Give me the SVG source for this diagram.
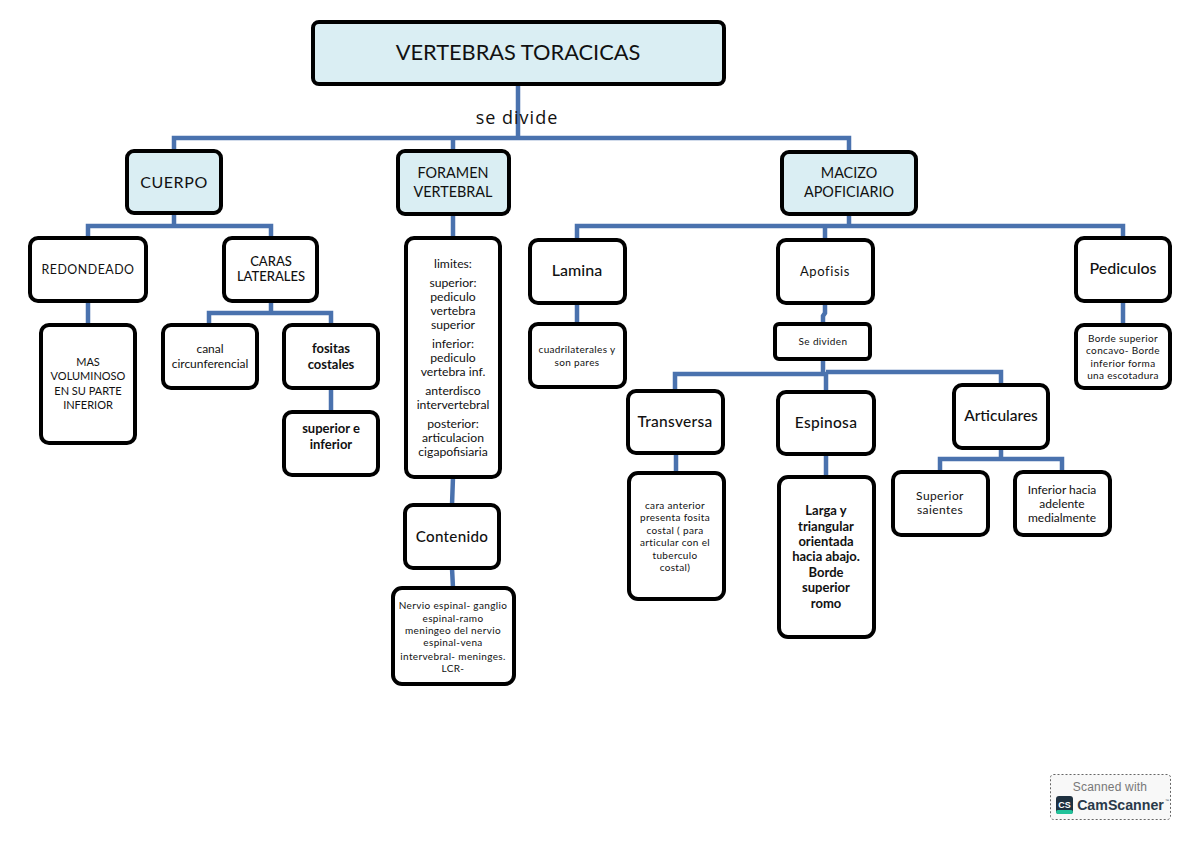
<svg xmlns="http://www.w3.org/2000/svg" width="1200" height="849" viewBox="0 0 1200 849">
<style>
.box{fill:#fff;stroke:#000;stroke-width:4}
.hd{fill:#daeef3}
.c{fill:none;stroke:#4a72ae;stroke-width:4.5}
text{font-family:"Lato","Carlito","Liberation Sans",sans-serif;fill:#111;text-anchor:middle}
.t10{font-size:10px;letter-spacing:.35px}
.t11{font-size:11px}
.t12{font-size:12px}
.t122{font-size:12.2px}
.t13{font-size:13px}
.t145{font-size:14.4px}
.b{font-weight:700}
</style>
<rect width="1200" height="849" fill="#fff"/>
<g id="connectors">
<path class="c" d="M518 84V138M174 152V138H849V152M453 138V152"/>
<path class="c" d="M174 213V226M88 238V226H271V238M88 301V325M271 301V313M209 325V313H331V325M331 389V412"/>
<path class="c" d="M453 214V237M453 477L452 505M452 568L453 588"/>
<path class="c" d="M849 214V226M577 239V226H1123V237M825 226V239M577 303V324M825 303V313L823 316V324M823 359V374M675 390V374H826M826 372H1001V384M826 372V391M676 453V473M826 454V477M1001 448V459M940 472V459H1062V472M1123 301V325"/>
</g>
<g id="n-title"><rect class="box hd" x="313" y="22" width="411" height="62" rx="6"/><text x="518" y="60" font-size="21.800">VERTEBRAS TORACICAS</text></g>
<g id="l-sedivide"><text x="517" y="124" font-size="18" letter-spacing="1" style="font-family:'Open Sans','Noto Sans',sans-serif">se divide</text></g>
<g id="n-cuerpo"><rect class="box hd" x="127" y="151" width="94" height="62" rx="7"/><text x="174" y="188" font-size="16" letter-spacing=".6">CUERPO</text></g>
<g id="n-foramen"><rect class="box hd" x="398" y="151" width="111" height="63" rx="7"/><text class="t145" x="453" y="178">FORAMEN</text><text class="t145" x="453" y="197">VERTEBRAL</text></g>
<g id="n-macizo"><rect class="box hd" x="782" y="152" width="134" height="62" rx="7"/><text class="t145" x="849" y="178">MACIZO</text><text class="t145" x="849" y="197">APOFICIARIO</text></g>
<g id="n-redondeado"><rect class="box" x="30" y="238" width="116" height="63" rx="8"/><text x="88" y="274" font-size="12.400" letter-spacing=".5">REDONDEADO</text></g>
<g id="n-caras"><rect class="box" x="224" y="238" width="93" height="63" rx="8"/><text class="t13" x="271" y="266" style="font-weight:500">CARAS</text><text class="t13" x="271" y="281" style="font-weight:500">LATERALES</text></g>
<g id="n-mas"><rect class="box" x="41" y="325" width="94" height="118" rx="8"/><text class="t11" x="88" y="366">MAS</text><text class="t11" x="88" y="380">VOLUMINOSO</text><text class="t11" x="88" y="395">EN SU PARTE</text><text class="t11" x="88" y="409">INFERIOR</text></g>
<g id="n-canal"><rect class="box" x="163" y="325" width="94" height="63" rx="8"/><text class="t12" x="210" y="353">canal</text><text class="t12" x="210" y="368">circunferencial</text></g>
<g id="n-fositas"><rect class="box" x="284" y="325" width="94" height="63" rx="8"/><text class="t13 b" x="331" y="353">fositas</text><text class="t13 b" x="331" y="369">costales</text></g>
<g id="n-supinf"><rect class="box" x="284" y="412" width="94" height="63" rx="8"/><text class="t13 b" x="331" y="433">superior e</text><text class="t13 b" x="331" y="449">inferior</text></g>
<g id="n-limites"><rect class="box" x="406" y="238" width="94" height="239" rx="8"/>
<text class="t122" x="453" y="268">limites:</text><text class="t122" x="453" y="287">superior:</text><text class="t122" x="453" y="301">pediculo</text><text class="t122" x="453" y="315">vertebra</text><text class="t122" x="453" y="329">superior</text><text class="t122" x="453" y="348">inferior:</text><text class="t122" x="453" y="362">pediculo</text><text class="t122" x="453" y="376">vertebra inf.</text><text class="t122" x="453" y="395">anterdisco</text><text class="t122" x="453" y="409">intervertebral</text><text class="t122" x="453" y="428">posterior:</text><text class="t122" x="453" y="442">articulacion</text><text class="t122" x="453" y="456">cigapofisiaria</text></g>
<g id="n-contenido"><rect class="box" x="405" y="505" width="94" height="63" rx="8"/><text x="452" y="542" font-size="15.200" style="font-weight:500" letter-spacing=".3">Contenido</text></g>
<g id="n-nervio"><rect class="box" x="393" y="588" width="121" height="96" rx="9"/><text class="t10" x="453" y="609">Nervio espinal- ganglio</text><text class="t10" x="453" y="622">espinal-ramo</text><text class="t10" x="453" y="634">meningeo del nervio</text><text class="t10" x="453" y="646">espinal-vena</text><text class="t10" x="453" y="660">intervebral- meninges.</text><text class="t10" x="453" y="672">LCR-</text></g>
<g id="n-lamina"><rect class="box" x="530" y="240" width="95" height="63" rx="8"/><text x="577" y="276" font-size="16" style="font-weight:500">Lamina</text></g>
<g id="n-cuad"><rect class="box" x="530" y="324" width="95" height="63" rx="8"/><text class="t10" x="577" y="353">cuadrilaterales y</text><text class="t10" x="577" y="366">son pares</text></g>
<g id="n-apofisis"><rect class="box" x="778" y="240" width="95" height="63" rx="8"/><text x="825" y="276" font-size="13" letter-spacing=".6">Apofisis</text></g>
<g id="n-sedividen"><rect class="box" x="775" y="324" width="95" height="35" rx="4"/><text class="t10" x="823" y="345">Se dividen</text></g>
<g id="n-transversa"><rect class="box" x="628" y="391" width="95" height="62" rx="8"/><text x="675" y="427" font-size="15.500" style="font-weight:500" letter-spacing=".3">Transversa</text></g>
<g id="n-espinosa"><rect class="box" x="778" y="392" width="96" height="62" rx="8"/><text x="826" y="428" font-size="15.500" style="font-weight:500" letter-spacing=".3">Espinosa</text></g>
<g id="n-articulares"><rect class="box" x="954" y="385" width="94" height="63" rx="8"/><text x="1001" y="421" font-size="15.500" style="font-weight:500">Articulares</text></g>
<g id="n-cara"><rect class="box" x="629" y="473" width="95" height="126" rx="9"/><text class="t10" x="675" y="509">cara anterior</text><text class="t10" x="675" y="521">presenta fosita</text><text class="t10" x="675" y="534">costal ( para</text><text class="t10" x="675" y="546">articular con el</text><text class="t10" x="675" y="559">tuberculo</text><text class="t10" x="675" y="571">costal)</text></g>
<g id="n-larga"><rect class="box" x="779" y="477" width="95" height="160" rx="9"/><text class="t13 b" x="826" y="515">Larga y</text><text class="t13 b" x="826" y="531">triangular</text><text class="t13 b" x="826" y="546">orientada</text><text class="t13 b" x="826" y="561">hacia abajo.</text><text class="t13 b" x="826" y="577">Borde</text><text class="t13 b" x="826" y="592">superior</text><text class="t13 b" x="826" y="608">romo</text></g>
<g id="n-superior"><rect class="box" x="893" y="472" width="95" height="63" rx="8"/><text class="t12" x="940" y="500" letter-spacing=".4">Superior</text><text class="t12" x="940" y="514" letter-spacing=".4">saientes</text></g>
<g id="n-inferior"><rect class="box" x="1015" y="472" width="95" height="63" rx="8"/><text class="t12" x="1062" y="494">Inferior hacia</text><text class="t12" x="1062" y="508">adelente</text><text class="t12" x="1062" y="522">medialmente</text></g>
<g id="n-pediculos"><rect class="box" x="1076" y="238" width="94" height="63" rx="8"/><text x="1123" y="274" font-size="16" style="font-weight:500">Pediculos</text></g>
<g id="n-borde"><rect class="box" x="1076" y="325" width="94" height="63" rx="8"/><text class="t10" x="1123" y="342">Borde superior</text><text class="t10" x="1123" y="354">concavo- Borde</text><text class="t10" x="1123" y="367">inferior forma</text><text class="t10" x="1123" y="379">una escotadura</text></g>
<g id="badge"><rect x="1050.500" y="774.500" width="120" height="45" rx="3" fill="#f8f8f8" stroke="#666" stroke-dasharray="2 2"/>
<text x="1110" y="791" font-size="12" style="font-family:'Liberation Sans',sans-serif;fill:#777" letter-spacing=".2">Scanned with</text>
<rect x="1056" y="796" width="17" height="18" rx="3" fill="#1e3040"/><rect x="1056" y="810" width="17" height="4" rx="2" fill="#22c39a"/>
<text x="1064.500" y="808" font-size="9" style="font-family:'Liberation Sans',sans-serif;font-weight:700;fill:#fff">CS</text>
<text x="1120.500" y="810" font-size="14.200" style="font-family:'Liberation Sans',sans-serif;font-weight:700;fill:#2a3a4a">CamScanner</text>
<text x="1167" y="802" font-size="4" style="font-family:'Liberation Sans',sans-serif;fill:#2a3a4a">™</text></g>
</svg>
